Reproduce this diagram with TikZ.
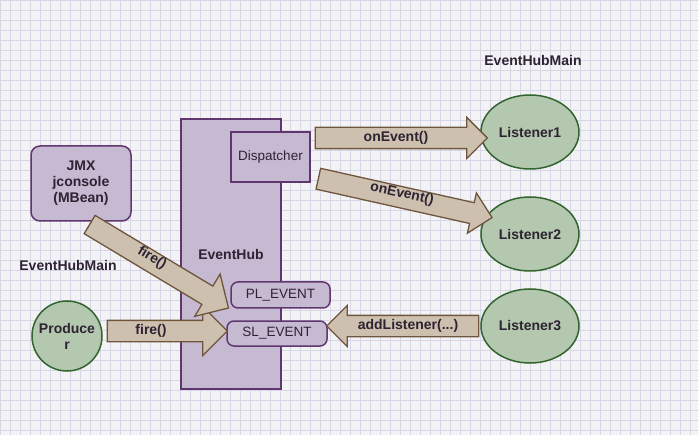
\documentclass[tikz,border=0pt]{standalone}
\usepackage{fontspec}
\setmainfont{Liberation Sans}
\usetikzlibrary{shapes.geometric,shapes.arrows,calc}
\definecolor{bg}{RGB}{243,243,246}
\definecolor{gridc}{RGB}{214,214,230}
\definecolor{pfill}{RGB}{198,185,210}
\definecolor{pdraw}{RGB}{95,55,110}
\definecolor{gfill}{RGB}{180,200,175}
\definecolor{gdraw}{RGB}{50,100,45}
\definecolor{afill}{RGB}{205,192,175}
\definecolor{adraw}{RGB}{110,85,60}
\definecolor{txt}{RGB}{45,35,50}
\begin{document}
\begin{tikzpicture}[x=1pt,y=-1pt,
  purp/.style={draw=pdraw,fill=pfill,line width=1.5pt,inner sep=0pt},
  lis/.style={ellipse,draw=gdraw,fill=gfill,line width=1.5pt,minimum width=98pt,minimum height=74pt,inner sep=0pt,font=\bfseries\fontsize{14}{16}\selectfont,text=txt},
  fat/.style={single arrow,draw=adraw,fill=afill,line width=1.3pt,inner xsep=0pt,inner ysep=10pt,single arrow head extend=10pt,single arrow head indent=0pt,shape border uses incircle=false},
  lab/.style={font=\bfseries\fontsize{14}{16}\selectfont,text=txt},
  small/.style={font=\fontsize{13.5}{15}\selectfont,text=txt}]
\useasboundingbox (0,0) rectangle (698,435);
\fill[bg] (0,0) rectangle (698,435);
\draw[gridc,line width=0.5pt] (0,0) grid[step=10pt] (698,435);
% EventHub
\node[purp,minimum width=100pt,minimum height=270pt] (hub) at (231,254) {};
\node[lab] (hubl) at (231,254) {EventHub};
\node[purp,minimum width=79pt,minimum height=50pt,small] (disp) at (270.5,157) {Dispatcher};
\node[purp,rounded corners=7pt,minimum width=99pt,minimum height=26pt,small] (pl) at (280.5,295) {PL\_EVENT};
\node[purp,rounded corners=7pt,minimum width=100pt,minimum height=25pt,small] (sl) at (277,333.5) {SL\_EVENT};
\node[purp,rounded corners=9pt,minimum width=100pt,minimum height=75pt,align=center,font=\bfseries\fontsize{14}{16}\selectfont,text=txt] (jmx) at (81,183.5) {JMX\\jconsole\\(MBean)};
\node[circle,draw=gdraw,fill=gfill,line width=1.5pt,minimum size=70pt,inner sep=0pt,align=center,font=\bfseries\fontsize{14}{16}\selectfont,text=txt] (prod) at (67,336) {Produce\\r};
\node[lis] (l1) at (530,132) {Listener1};
\node[lis] (l2) at (530,234) {Listener2};
\node[lis] (l3) at (530,326) {Listener3};
\node[lab] (m1) at (533,61) {EventHubMain};
\node[lab] (m2) at (68,265) {EventHubMain};
% arrows
\node[fat,minimum width=40pt,minimum height=172pt] (a1) at (396,138) {};
\node[lab] at (396,138) {onEvent()};
\node[fat,minimum width=40pt,minimum height=178pt,rotate=-12.6] (a2) at (400,197) {};
\node[lab,rotate=-12.6] at (402,194) {onEvent()};
\node[fat,minimum width=40pt,minimum height=152pt,rotate=180] (a3) at (408,326) {};
\node[lab] at (408,326) {addListener(...)};
\node[fat,minimum width=48pt,minimum height=120pt,single arrow head extend=14pt] (a4) at (162,331) {};
\node[lab] at (151,331) {fire()};
\node[fat,minimum width=48pt,minimum height=162pt,single arrow head extend=14pt,rotate=-31] (a5) at (154.5,263.5) {};
\node[lab,rotate=-31] at (152,258) {fire()};
\end{tikzpicture}
\end{document}
